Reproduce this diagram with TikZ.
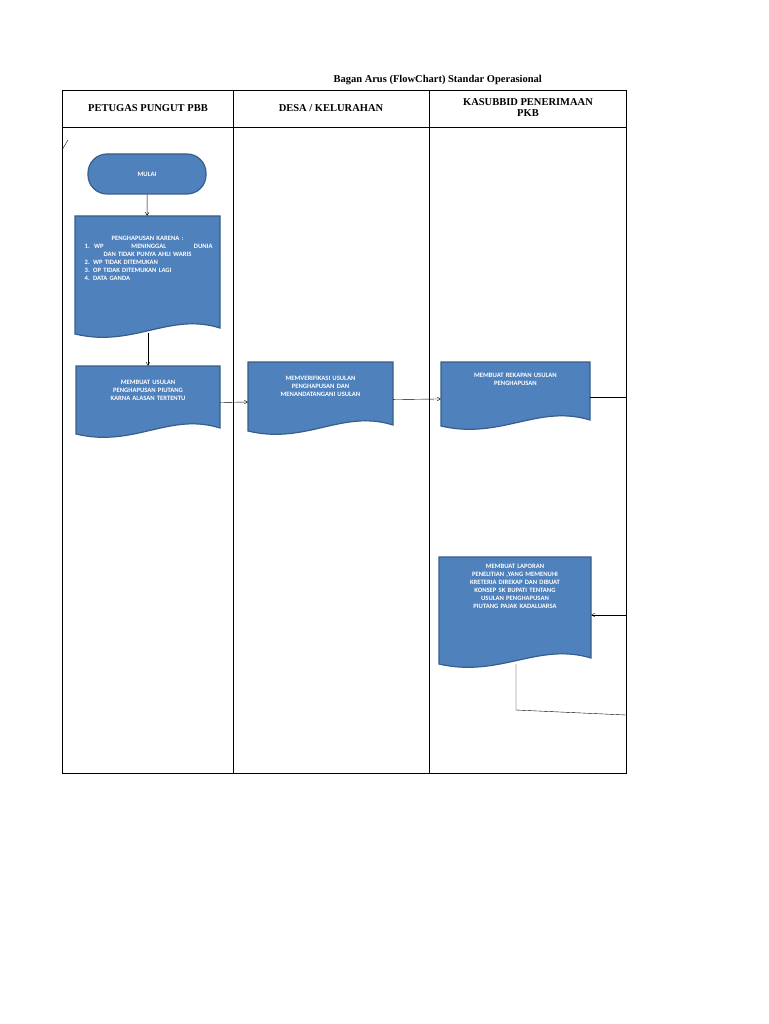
\documentclass[tikz,border=0pt]{standalone}
\usepackage{fontspec}
\setmainfont{Liberation Serif}
\newfontfamily\boxfont{Carlito}
\usetikzlibrary{arrows}
\definecolor{docfill}{HTML}{4F81BD}
\definecolor{docline}{HTML}{385D8A}
\tikzset{
  docshape/.style={fill=docfill, draw=docline, line width=1.2pt},
  doctext/.style={text=white, font=\boxfont\bfseries\fontsize{6.6}{8}\selectfont, align=center, inner sep=0pt},
  head/.style={font=\bfseries\fontsize{10.5}{11}\selectfont, align=center},
  flow/.style={->, >=angle 60, thin},
}
% name, x1, y1, x2, y2, text offset, text width, text
\newcommand{\DocBox}[8]{%
  \node (#1) [minimum width=#4-#2, minimum height=#5-#3, inner sep=0pt]
    at ({(#2+#4)/2},{(#3+#5)/2}) {};
  \draw[docshape] (#2,#3) -- (#4,#3) -- (#4,#5-14)
    .. controls ({#4-0.35*(#4-#2)},{#5-30}) and ({#2+0.4*(#4-#2)},{#5+6}) .. (#2,#5-8) -- cycle;
  \node (#1-t) [doctext, text width=#7, anchor=north] at ({(#2+#4)/2},{#3+#6}) {#8};
}
\newcommand{\LeftLine}[1]{\leavevmode\makebox[130pt][l]{#1}}

\begin{document}
\begin{tikzpicture}[x=1pt, y=-1pt]
  \useasboundingbox (0,0) rectangle (768,1024);

  % title and lanes
  \node (title) [anchor=west, font=\bfseries\fontsize{10.5}{12}\selectfont] at (330,80)
    {Bagan Arus (FlowChart) Standar Operasional};
  \draw (62,90) rectangle (626,773);
  \draw (62,127) -- (626,127);
  \draw (233,90) -- (233,773);
  \draw (429,90) -- (429,773);
  \node (lane1) [head] at (148,108) {PETUGAS PUNGUT PBB};
  \node (lane2) [head] at (331,108) {DESA / KELURAHAN};
  \node (lane3) [head] at (528,108) {KASUBBID PENERIMAAN\\PKB};
  \draw (62,150) -- (68,140);

  % start
  \node (mulai) [docshape, rounded corners=19pt, minimum width=118pt, minimum height=40pt,
    text=white, font=\boxfont\bfseries\fontsize{6.6}{8}\selectfont] at (147,174) {MULAI};

  % documents
  \DocBox{alasan}{75}{216}{220}{342}{20}{130pt}{PENGHAPUSAN KARENA :\\
    \leavevmode\makebox[130pt][s]{\ 1.\ \ WP\hfill MENINGGAL\hfill DUNIA}\\
    DAN TIDAK PUNYA AHLI WARIS\\
    \LeftLine{\ 2. WP TIDAK DITEMUKAN}\\
    \LeftLine{\ 3. OP TIDAK DITEMUKAN LAGI}\\
    \LeftLine{\ 4. DATA GANDA}}
  \DocBox{usulan}{76}{366}{220}{442}{14}{130pt}{MEMBUAT USULAN\\PENGHAPUSAN PIUTANG\\KARNA ALASAN TERTENTU}
  \DocBox{verif}{248}{362}{393}{439}{14}{130pt}{MEMVERIFIKASI USULAN\\PENGHAPUSAN DAN\\MENANDATANGANI USULAN}
  \DocBox{rekap}{441}{362}{590}{434}{11}{140pt}{MEMBUAT REKAPAN USULAN\\PENGHAPUSAN}
  \DocBox{laporan}{439}{557}{591}{672}{7}{145pt}{MEMBUAT LAPORAN\\PENELITIAN ,YANG MEMENUHI\\KRETERIA DIREKAP DAN DIBUAT\\KONSEP SK BUPATI TENTANG\\USULAN PENGHAPUSAN\\PIUTANG PAJAK KADALUARSA}

  % connectors
  \coordinate (out1) at (626,397);
  \coordinate (in1) at (626,615);
  \coordinate (bend) at (516,710);
  \coordinate (out2) at (626,715);
  \draw[flow] (mulai) -- (alasan);
  \draw[flow] (148,333) -- (usulan);
  \draw[flow] (usulan) -- (verif);
  \draw[flow] (verif) -- (rekap);
  \draw (rekap.east |- out1) -- (out1);
  \draw[flow] (in1) -- (laporan.east |- in1);
  \draw (516,664) -- (bend) -- (out2);
\end{tikzpicture}
\end{document}
